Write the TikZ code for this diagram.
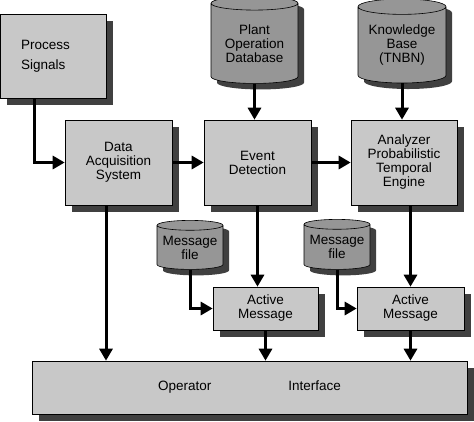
\documentclass[tikz,border=0pt]{standalone}
\usepackage{fontspec}
\setmainfont{Liberation Sans}
\usetikzlibrary{positioning, arrows.meta, calc, shapes.geometric, shadows}

\definecolor{boxgray}{RGB}{200,200,200}
\definecolor{dbgray}{RGB}{150,150,150}
\definecolor{shadowgray}{RGB}{64,64,64}

\begin{document}
\begin{tikzpicture}[
    x=1pt, y=-1pt,
    every node/.style={font=\fontsize{13.5}{14}\selectfont},
    block/.style={
        rectangle,
        draw=black,
        fill=boxgray,
        align=center,
        inner sep=0pt,
        line width=0.6pt,
        drop shadow={shadow xshift=7pt, shadow yshift=-7pt, fill=shadowgray, opacity=1}
    },
    store/.style={
        cylinder,
        shape border rotate=90,
        draw=black,
        fill=dbgray,
        align=center,
        inner sep=0pt,
        line width=0.6pt,
        drop shadow={shadow xshift=6pt, shadow yshift=-6pt, fill=shadowgray, opacity=1}
    },
    arrow/.style={
        -{Triangle[length=12pt, width=13pt]},
        line width=3pt,
        color=black
    }
]
\useasboundingbox (0,0) rectangle (474,421);

% Inputs
\node[block, minimum width=106pt, minimum height=84pt, text width=64pt, align=left] (signals) at (53,56) {Process\\[6pt]Signals};
\node[store, minimum width=87pt, minimum height=87pt, aspect=0.23] (plantdb) at (254.5,43.5) {Plant\\Operation\\Database};
\node[store, minimum width=88pt, minimum height=84pt, aspect=0.23] (kbase) at (402,45) {Knowledge\\Base\\(TNBN)};

% Processing row
\node[block, minimum width=107pt, minimum height=85pt] (acq) at (118.5,162.5) {Data\\Acquisition\\System};
\node[block, minimum width=107pt, minimum height=85pt] (event) at (257.5,162.5) {Event\\Detection};
\node[block, minimum width=106pt, minimum height=85pt] (engine) at (404,162.5) {Analyzer\\Probabilistic\\Temporal\\Engine};

% Message files and active messages
\node[store, minimum width=66pt, minimum height=49pt, aspect=0.18] (msgfileA) at (190,247.5) {Message\\file};
\node[store, minimum width=66pt, minimum height=50pt, aspect=0.18] (msgfileB) at (337,247) {Message\\file};
\node[block, minimum width=105pt, minimum height=43pt] (activeA) at (265.5,308.5) {Active\\Message};
\node[block, minimum width=107pt, minimum height=43pt] (activeB) at (410.5,308.5) {Active\\Message};

% Operator interface
\node[block, minimum width=435pt, minimum height=53pt] (operator) at (249.5,387.5) {Operator\hspace{77pt}Interface};

% Data flow
\draw[arrow] ([xshift=-19pt]signals.south) |- (acq.west);
\draw[arrow] (acq.east) -- (event.west);
\draw[arrow] (event.east) -- (engine.west);
\draw[arrow] (plantdb.south) -- (plantdb.south |- event.north);
\draw[arrow] (kbase.south) -- (kbase.south |- engine.north);

% Down to messages and operator
\draw[arrow] ([xshift=-12.5pt]acq.south) -- ([xshift=-12.5pt]acq.south |- operator.north);
\draw[arrow] (event.south) -- (event.south |- activeA.north);
\draw[arrow] (activeB.north |- engine.south) -- (activeB.north);
\draw[arrow] (msgfileA.south) |- (activeA.west);
\draw[arrow] (msgfileB.south) |- (activeB.west);
\draw[arrow] (activeA.south) -- (activeA.south |- operator.north);
\draw[arrow] (activeB.south) -- (activeB.south |- operator.north);

\end{tikzpicture}
\end{document}
